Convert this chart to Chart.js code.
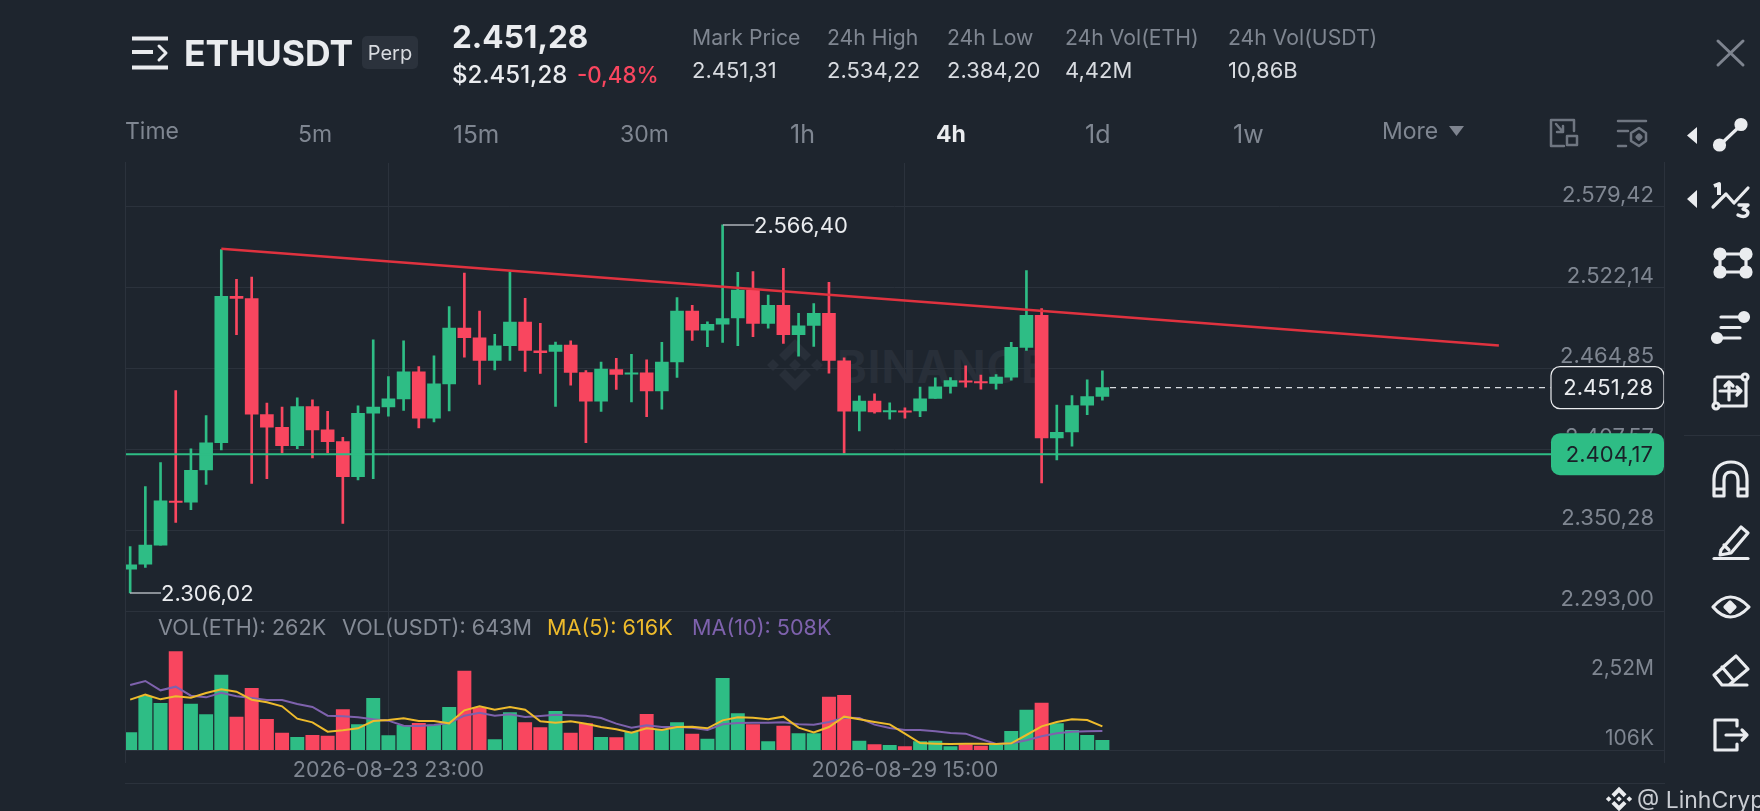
<!DOCTYPE html>
<html>
<head>
<meta charset="utf-8">
<title>ETHUSDT Perp</title>
<script src="https://cdn.jsdelivr.net/npm/chart.js@4"></script>
<style>
html,body{margin:0;padding:0;width:1760px;height:811px;background:#1e252e;overflow:hidden;font-family:Inter,Roboto,sans-serif;}
#page{position:relative;width:1760px;height:811px;overflow:hidden;}
canvas{position:absolute;left:0;top:0;}
.t{position:absolute;white-space:nowrap;line-height:1;transform:translateY(-50%);}
.g{color:#7f8691;}
.w{color:#d8dbe0;}
.l{position:absolute;background:#2b323c;}
</style>
</head>
<body>
<div id="page">
<div class="t" style="left:837px;top:366px;font-size:45px;font-weight:700;color:#282f39;letter-spacing:1px;">BINANCE</div>
<svg style="position:absolute;left:763px;top:333px;" width="64" height="64" viewBox="0 0 32 32" fill="#282f39"><path d="M16 3L24 11L21 14L16 9L11 14L8 11ZM16 29L24 21L21 18L16 23L11 18L8 21ZM16 13L19 16L16 19L13 16ZM5 13L8 16L5 19L2 16ZM27 13L30 16L27 19L24 16Z"/></svg>
<canvas id="priceChart" width="1760" height="811"></canvas>
<canvas id="volChart" width="1760" height="811"></canvas>

<div class="l" style="left:125px;top:162px;width:1px;height:601px;"></div>
<div class="l" style="left:1664px;top:162px;width:1px;height:601px;"></div>
<div class="l" style="left:125px;top:750px;width:1540px;height:1px;"></div>
<div class="l" style="left:125px;top:783px;width:1540px;height:1px;"></div>
<div class="l" style="left:1684px;top:435px;width:76px;height:1px;"></div>

<svg style="position:absolute;left:0;top:0;" width="1760" height="811" fill="none" stroke="#eaecef" stroke-width="3.2" stroke-linecap="round" stroke-linejoin="round">
  <!-- menu -->
  <path d="M132 38.5H168M132 52H153M132 67.5H168" stroke-width="4" stroke-linecap="butt"/>
  <path d="M159 46L166 53L159 60" stroke-width="3"/>
  <!-- close -->
  <path d="M1718 41L1743 65M1743 41L1718 65" stroke="#7e848f" stroke-width="3"/>
  <!-- toolbar icons -->
  <g stroke="#6f7681" stroke-width="2.5">
    <path d="M1574 131V120H1551V146H1564"/><rect x="1567" y="136" width="10" height="9"/><path d="M1556 124L1563 132M1563 126V132H1557"/>
    <path d="M1618 121H1646M1618 131H1628M1618 146H1626M1631 133L1639 128L1646 133V141L1639 146L1631 141Z"/>
  </g>
  <path d="M1637 137l2-2 2 2-2 2z" fill="#6f7681" stroke="#6f7681"/>
  <path d="M1449 126H1464L1456.5 136Z" fill="#7e848f" stroke="none"/>
  <!-- right side tools -->
  <path d="M1697 127V144L1687 135.5ZM1697 190V208L1687 199Z" fill="#eaecef" stroke="none"/>
  <path d="M1720 145L1741 125"/>
  <circle cx="1719.5" cy="145" r="5" fill="#eaecef"/><circle cx="1741" cy="124.5" r="5" fill="#eaecef"/>
  <path d="M1713 207L1726 194L1734 203L1748 188"/>
  <path d="M1714 186L1719 184V195" stroke-width="4" stroke-linecap="butt"/>
  <path d="M1739 205H1748L1743 209Q1750 211 1747 215Q1744 218 1738 215" stroke-width="3.4"/>
  <path d="M1720 254H1746M1720 272H1746M1720 254V272M1746 254V272"/>
  <circle cx="1720" cy="254" r="5" fill="#eaecef"/><circle cx="1746" cy="254" r="5" fill="#eaecef"/><circle cx="1720" cy="272" r="5" fill="#eaecef"/><circle cx="1746" cy="272" r="5" fill="#eaecef"/>
  <path d="M1721 317H1743M1721 327.5H1740M1722 338H1740"/>
  <circle cx="1744" cy="317" r="4.5" fill="#eaecef"/><circle cx="1717" cy="338" r="4.5" fill="#eaecef"/>
  <path d="M1715 379V406H1746V377H1717"/><circle cx="1745" cy="377" r="3" fill="#1e252e"/><circle cx="1716" cy="406" r="3" fill="#1e252e"/>
  <path d="M1729 382V400M1720 391H1741M1725 386L1729 382L1733 386M1737 387L1741 391L1737 395"/>
  <path d="M1714 496V479C1714 468 1721 462 1731 462C1741 462 1747 468 1747 479V496H1738V480C1738 474 1735 472 1731 472C1727 472 1724 474 1724 480V496ZM1714 489H1724M1738 489H1747"/>
  <path d="M1714 558.5H1748" />
  <path d="M1721 550L1741 527L1748 533L1731 553L1720 555ZM1724 545L1729 550"/>
  <path d="M1713 607Q1730 587 1749 607Q1730 627 1713 607Z"/><path d="M1730 602L1735 607L1730 612L1725 607Z" fill="#eaecef"/>
  <path d="M1714 675L1736 656L1748 669L1729 685H1722ZM1722 667L1734 681M1722 685H1747"/>
  <path d="M1737 726V720H1715V750H1737V744M1726 735H1747M1742 730L1747 735L1742 740"/>
</svg>

<div class="t" style="left:184px;top:54px;font-size:35.5px;font-weight:700;color:#eaecef;">ETHUSDT</div>
<div style="position:absolute;left:362px;top:36px;width:56px;height:33px;background:#2b323c;border-radius:5px;"></div>
<div class="t" style="left:390px;top:53px;font-size:20px;color:#d8dbe0;transform:translate(-50%,-50%);">Perp</div>
<div class="t" style="left:452px;top:37px;font-size:31.5px;font-weight:700;color:#eaecef;">2.451,28</div>
<div class="t" style="left:452px;top:75px;font-size:24px;font-weight:500;color:#eaecef;">$2.451,28</div>
<div class="t" style="left:577px;top:75px;font-size:22.3px;font-weight:500;color:#f9465f;">-0,48%</div>

<div class="t g" style="left:692px;top:38px;font-size:21.2px;">Mark Price</div>
<div class="t w" style="left:692px;top:70px;font-size:22px;">2.451,31</div>
<div class="t g" style="left:827px;top:38px;font-size:21.2px;">24h High</div>
<div class="t w" style="left:827px;top:70px;font-size:22px;">2.534,22</div>
<div class="t g" style="left:947px;top:38px;font-size:21.2px;">24h Low</div>
<div class="t w" style="left:947px;top:70px;font-size:22px;">2.384,20</div>
<div class="t g" style="left:1065px;top:38px;font-size:21.2px;">24h Vol(ETH)</div>
<div class="t w" style="left:1065px;top:70px;font-size:22px;">4,42M</div>
<div class="t g" style="left:1228px;top:38px;font-size:21.2px;">24h Vol(USDT)</div>
<div class="t w" style="left:1228px;top:70px;font-size:22px;">10,86B</div>

<div class="t g" style="left:125px;top:131px;font-size:23px;">Time</div>
<div class="t g" style="left:298px;top:134px;font-size:23px;">5m</div>
<div class="t g" style="left:453px;top:134px;font-size:24.5px;">15m</div>
<div class="t g" style="left:620px;top:134px;font-size:23px;">30m</div>
<div class="t g" style="left:790px;top:134px;font-size:25px;">1h</div>
<div class="t" style="left:936px;top:134px;font-size:23px;font-weight:700;color:#eaecef;">4h</div>
<div class="t g" style="left:1085px;top:134px;font-size:25px;">1d</div>
<div class="t g" style="left:1233px;top:134px;font-size:25px;">1w</div>
<div class="t g" style="left:1382px;top:131px;font-size:23px;">More</div>

<div class="t g" style="left:158px;top:628px;font-size:21.6px;color:#858b96;">VOL(ETH): 262K</div>
<div class="t g" style="left:342px;top:628px;font-size:21.6px;color:#858b96;">VOL(USDT): 643M</div>
<div class="t" style="left:547px;top:628px;font-size:21.6px;color:#eebb2c;">MA(5): 616K</div>
<div class="t" style="left:692px;top:628px;font-size:21.6px;color:#7e62ad;">MA(10): 508K</div>

<svg style="position:absolute;left:1604px;top:784px;" width="30" height="30" viewBox="0 0 32 32" fill="#eaecef"><path d="M16 3L24 11L21 14L16 9L11 14L8 11ZM16 29L24 21L21 18L16 23L11 18L8 21ZM16 13L19 16L16 19L13 16ZM5 13L8 16L5 19L2 16ZM27 13L30 16L27 19L24 16Z"/></svg>
<div class="t" style="left:1637px;top:800px;font-size:23px;color:#c9ccd2;">@ LinhCryp</div>
</div>

<script>
const timeLabels = [
"2026-08-21 03:00","2026-08-21 07:00","2026-08-21 11:00","2026-08-21 15:00","2026-08-21 19:00","2026-08-21 23:00",
"2026-08-22 03:00","2026-08-22 07:00","2026-08-22 11:00","2026-08-22 15:00","2026-08-22 19:00","2026-08-22 23:00",
"2026-08-23 03:00","2026-08-23 07:00","2026-08-23 11:00","2026-08-23 15:00","2026-08-23 19:00","2026-08-23 23:00",
"2026-08-24 03:00","2026-08-24 07:00","2026-08-24 11:00","2026-08-24 15:00","2026-08-24 19:00","2026-08-24 23:00",
"2026-08-25 03:00","2026-08-25 07:00","2026-08-25 11:00","2026-08-25 15:00","2026-08-25 19:00","2026-08-25 23:00",
"2026-08-26 03:00","2026-08-26 07:00","2026-08-26 11:00","2026-08-26 15:00","2026-08-26 19:00","2026-08-26 23:00",
"2026-08-27 03:00","2026-08-27 07:00","2026-08-27 11:00","2026-08-27 15:00","2026-08-27 19:00","2026-08-27 23:00",
"2026-08-28 03:00","2026-08-28 07:00","2026-08-28 11:00","2026-08-28 15:00","2026-08-28 19:00","2026-08-28 23:00",
"2026-08-29 03:00","2026-08-29 07:00","2026-08-29 11:00","2026-08-29 15:00","2026-08-29 19:00","2026-08-29 23:00",
"2026-08-30 03:00","2026-08-30 07:00","2026-08-30 11:00","2026-08-30 15:00","2026-08-30 19:00","2026-08-30 23:00",
"2026-08-31 03:00","2026-08-31 07:00","2026-08-31 11:00","2026-08-31 15:00","2026-08-31 19:00"];

const opens = [2322.81,2326.35,2339.82,2371.01,2370.30,2392.99,2412.36,2515.86,2514.20,2432.21,2423.23,2410.24,2437.88,2421.34,2413.07,2388.26,2433.16,2437.65,2443.32,2462.46,2429.61,2453.95,2493.41,2486.56,2470.49,2480.89,2497.66,2477.34,2476.87,2481.36,2461.98,2441.66,2464.11,2460.80,2461.75,2448.99,2469.54,2505.46,2491.99,2496.25,2500.50,2520.35,2496.72,2509.48,2488.68,2495.30,2503.81,2470.25,2434.57,2441.66,2434.10,2434.81,2434.81,2443.55,2452.06,2456.08,2455.60,2454.19,2458.68,2479.71,2502.39,2415.67,2419.92,2438.83,2444.97];
const highs = [2338.88,2381.17,2398.19,2449.22,2407.87,2431.50,2548.94,2527.91,2529.56,2440.25,2437.41,2444.03,2442.61,2434.57,2416.14,2438.35,2485.14,2459.15,2484.43,2466.24,2473.80,2508.53,2532.40,2505.46,2488.92,2533.11,2514.44,2496.72,2483.49,2484.43,2463.40,2469.31,2471.91,2474.74,2470.96,2483.25,2514.91,2509.48,2497.90,2566.40,2532.87,2533.34,2516.80,2535.71,2503.81,2510.66,2525.78,2472.38,2445.44,2446.86,2440.48,2436.94,2451.59,2458.20,2458.44,2466.71,2460.09,2460.57,2483.25,2534.05,2507.12,2438.83,2445.68,2456.79,2463.16];
const lows = [2306.02,2323.99,2339.82,2355.89,2364.87,2382.83,2407.16,2488.68,2383.54,2386.84,2405.04,2408.11,2401.49,2405.04,2355.18,2385.90,2386.84,2431.03,2435.05,2422.76,2427.01,2434.81,2472.85,2453.48,2463.87,2470.49,2462.69,2461.27,2437.88,2453.00,2412.36,2434.34,2449.93,2441.19,2430.79,2435.99,2458.44,2484.67,2480.18,2483.25,2480.89,2487.27,2493.41,2482.54,2473.56,2480.41,2461.51,2404.80,2420.63,2433.16,2428.90,2429.61,2430.79,2443.55,2447.33,2451.59,2450.17,2450.17,2456.55,2477.58,2383.77,2400.08,2409.76,2432.21,2442.37];
const closes = [2325.88,2339.82,2371.25,2370.07,2392.75,2412.13,2515.86,2514.44,2432.45,2423.23,2410.24,2437.88,2421.34,2413.07,2388.26,2433.16,2437.41,2443.32,2462.46,2429.61,2453.95,2493.41,2486.56,2470.49,2480.89,2497.66,2477.58,2475.92,2481.36,2461.98,2441.66,2464.35,2460.57,2461.75,2448.99,2469.31,2505.46,2491.99,2496.01,2500.03,2520.35,2496.72,2509.48,2488.68,2495.06,2503.81,2470.49,2434.57,2441.66,2434.10,2435.05,2433.87,2443.32,2451.82,2456.31,2455.13,2454.66,2458.68,2479.71,2502.39,2415.67,2419.69,2438.59,2444.97,2451.28];
const volumes = [632500,1886000,1644500,3427000,1621500,1253500,2622000,1173000,2162000,1092500,621000,471500,540500,517500,1426000,908500,1817000,529000,885500,954500,897000,1506500,2760000,1495000,391000,1322500,977500,805000,1368500,621000,943000,471500,460000,655500,1265000,724500,977500,586500,414000,2507000,1288000,908500,322000,862500,598000,598000,1863000,1920500,345000,218500,195500,149500,322000,345000,149500,218500,172500,207000,678500,1414500,1656000,943000,713000,540500,368000];
const ma5 = [1771000,1943500,1782500,1886000,1840000,2001000,2127500,2047000,1771000,1679000,1541000,1115500,989000,667000,713000,782000,1035000,1069500,1127000,1035000,1035000,954500,1403000,1541000,1426000,1518000,1426000,1023500,977500,1023500,943000,828000,747500,632500,782000,724500,828000,839500,782000,1058000,1161500,1150000,1092500,1184500,805000,644000,828000,1184500,1092500,1000500,920000,598000,276000,253000,241500,253000,253000,241500,264500,552000,851000,1000500,1092500,1069500,851000];
const ma10 = [2277000,2415000,2093000,2219500,1909000,1851500,2012500,1886000,1828500,1759500,1759500,1621500,1518000,1219000,1196000,1161500,1092500,1046500,874000,862500,897000,966000,1219000,1322500,1219000,1265000,1173000,1207500,1253500,1230500,1219000,1138500,943000,805000,885500,828000,828000,805000,724500,920000,966000,977500,977500,989000,920000,908500,1000500,1150000,1138500,908500,793500,724500,724500,678500,621000,598000,414000,241500,264500,368000,506000,609500,667000,678500,690000];

const priceTicks = [2579.42,2522.14,2464.85,2407.57,2350.28,2293.00];
const priceTickLabels = ["2.579,42","2.522,14","2.464,85","2.407,57","2.350,28","2.293,00"];
const volTicks = [2520000,106000];
const volTickLabels = ["2,52M","106K"];
const timeTickIndexes = [17,51];

const trendX = [6,90.1];
const trendY = [2549.6,2481.1];
const supportPrice = 2404.17;
const supportLabel = "2.404,17";
const lastPrice = 2451.28;
const lastLabel = "2.451,28";
const highLabel = "2.566,40";
const lowLabel = "2.306,02";

const UP = "#2ebd85", DOWN = "#f9465f", GRID = "#2b323c", AXIS = "#7f8691";
const FONT = "Inter, Roboto, sans-serif";
const X_MIN = -0.32, X_MAX = 100.97;
const isUp = opens.map((o,i)=>closes[i]>=o);
const candleColors = isUp.map(u=>u?UP:DOWN);

function baseX(showTicks){
  return {
    type:"linear", min:X_MIN, max:X_MAX, offset:false,
    afterBuildTicks(s){ s.ticks = timeTickIndexes.map(v=>({value:v})); },
    grid:{color:GRID, lineWidth:1, drawTicks:false, offset:false},
    border:{display:false},
    ticks:{display:showTicks, autoSkip:false, maxRotation:0, padding:7, color:AXIS,
      font:{family:FONT,size:21.5},
      callback(v){ return timeLabels[v].slice(0,16); }}
  };
}
const priceMarks = {
  id:"priceMarks",
  afterDraw(chart){
    const {ctx, scales:{x,y}} = chart;
    ctx.save();
    ctx.font = "22px "+FONT;
    ctx.textBaseline = "middle";
    const hi = highs.indexOf(Math.max(...highs)), lo = lows.indexOf(Math.min(...lows));
    ctx.strokeStyle = "#aeb3ba"; ctx.lineWidth = 1.5;
    [[hi,highs[hi],highLabel],[lo,lows[lo],lowLabel]].forEach(([i,v,t])=>{
      const px = Math.round(x.getPixelForValue(i)), py = Math.round(y.getPixelForValue(v));
      ctx.beginPath(); ctx.moveTo(px,py); ctx.lineTo(px+31,py); ctx.stroke();
      ctx.fillStyle = "#eaecef"; ctx.textAlign = "left";
      ctx.fillText(t, px+31, py+1);
    });
    const box = (v,t,fill,stroke,color)=>{
      const c = y.getPixelForValue(v);
      ctx.beginPath(); ctx.roundRect(1551,c-21,113,42,9);
      ctx.fillStyle = fill; ctx.fill();
      if(stroke){ ctx.strokeStyle = stroke; ctx.lineWidth = 1.2; ctx.stroke(); }
      ctx.fillStyle = color; ctx.textAlign = "right";
      ctx.fillText(t, 1653, c+1);
    };
    box(lastPrice,lastLabel,"#1e252e","#eaecef","#eaecef");
    box(supportPrice,supportLabel,UP,null,"#1a2028");
    ctx.restore();
  }
};

new Chart(document.getElementById("priceChart"),{
  type:"bar",
  plugins:[priceMarks],
  data:{datasets:[
    {type:"line",data:[{x:trendX[0],y:trendY[0]},{x:trendX[1],y:trendY[1]}],borderColor:"#e0323f",borderWidth:2.5,pointRadius:0,order:1,clip:false},
    {type:"line",data:[{x:X_MIN,y:supportPrice},{x:X_MAX,y:supportPrice}],borderColor:UP,borderWidth:2,pointRadius:0,order:1},
    {type:"line",data:[{x:64.5,y:lastPrice},{x:93.5,y:lastPrice}],borderColor:"#d8dbe0",borderWidth:1.2,borderDash:[6,5],pointRadius:0,order:1},
    {label:"wick",data:highs.map((h,i)=>({x:i,y:[lows[i],h]})),backgroundColor:candleColors,barThickness:2,grouped:false,order:3},
    {label:"body",data:opens.map((o,i)=>({x:i,y:[o,closes[i]]})),backgroundColor:candleColors,barThickness:13,grouped:false,order:2}
  ]},
  options:{
    responsive:false,animation:false,devicePixelRatio:1,
    layout:{padding:{left:125.3,right:96,top:163,bottom:199.7}},
    plugins:{legend:{display:false},tooltip:{enabled:false}},
    scales:{
      x:baseX(false),
      y:{
        position:"right",min:2293,max:2610.2,
        afterBuildTicks(s){ s.ticks = priceTicks.map(v=>({value:v})); },
        grid:{color:GRID,lineWidth:1,drawTicks:false},
        border:{display:false},
        ticks:{mirror:true,autoSkip:false,padding:-10,color:AXIS,
          font:{family:FONT,size:22,lineHeight:1.05},
          callback(v,i){ return [priceTickLabels[i],""]; }}
      }
    }
  }
});

new Chart(document.getElementById("volChart"),{
  type:"bar",
  data:{datasets:[
    {type:"line",label:"MA(5)",data:ma5.map((v,i)=>({x:i,y:v})),borderColor:"#eebb2c",borderWidth:2,pointRadius:0,tension:0,order:1},
    {type:"line",label:"MA(10)",data:ma10.map((v,i)=>({x:i,y:v})),borderColor:"#7e62ad",borderWidth:2,pointRadius:0,tension:0,order:1},
    {label:"VOL",data:volumes.map((v,i)=>({x:i,y:v})),backgroundColor:candleColors,barThickness:13.3,order:2}
  ]},
  options:{
    responsive:false,animation:false,devicePixelRatio:1,
    layout:{padding:{left:125.3,right:96,top:611.3,bottom:20}},
    plugins:{legend:{display:false},tooltip:{enabled:false}},
    scales:{
      x:Object.assign(baseX(true),{afterFit(s){s.height=40;}}),
      y:{
        position:"right",min:0,max:4820000,
        afterBuildTicks(s){ s.ticks = volTicks.map(v=>({value:v})); },
        grid:{display:false,drawTicks:false},
        border:{display:false},
        ticks:{mirror:true,autoSkip:false,padding:-10,color:AXIS,
          font:{family:FONT,size:21,lineHeight:0.86},
          callback(v,i){ return [volTickLabels[i],""]; }}
      }
    }
  }
});
</script>
</body>
</html>
